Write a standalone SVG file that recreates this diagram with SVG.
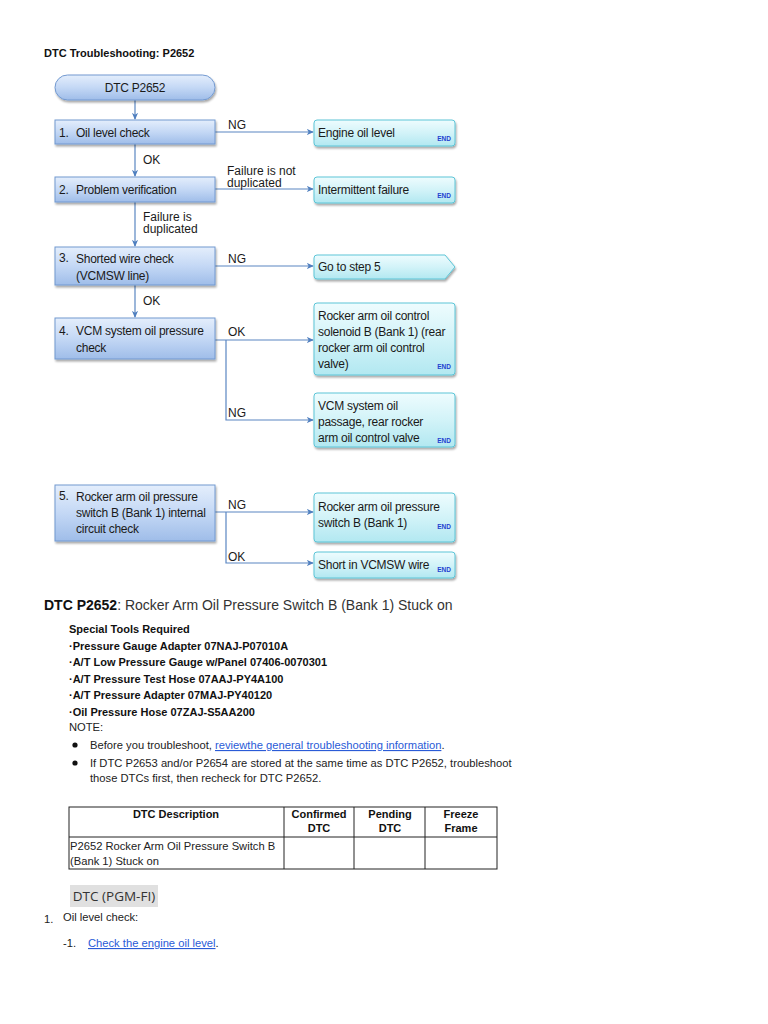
<svg xmlns="http://www.w3.org/2000/svg" width="768" height="1024" viewBox="0 0 768 1024">
<defs>
<linearGradient id="gMain" x1="0" y1="0" x2="0" y2="1">
<stop offset="0" stop-color="#e4eefc"/>
<stop offset="0.5" stop-color="#c4d8f5"/>
<stop offset="1" stop-color="#9fbde9"/>
</linearGradient>
<linearGradient id="gEnd" x1="0" y1="0" x2="0" y2="1">
<stop offset="0" stop-color="#eefcfe"/>
<stop offset="0.5" stop-color="#d2f3f8"/>
<stop offset="1" stop-color="#b2e8f1"/>
</linearGradient>
<filter id="sh" x="-10%" y="-10%" width="125%" height="140%">
<feGaussianBlur in="SourceAlpha" stdDeviation="1.2"/>
<feOffset dx="1" dy="2" result="o"/>
<feComponentTransfer><feFuncA type="linear" slope="0.35"/></feComponentTransfer>
<feMerge><feMergeNode/><feMergeNode in="SourceGraphic"/></feMerge>
</filter>
<marker id="arr" viewBox="0 0 8 8" refX="7" refY="4" markerWidth="7" markerHeight="7" orient="auto" markerUnits="userSpaceOnUse">
<path d="M0,0.5 L8,4 L0,7.5 L2,4 Z" fill="#4f7fbf"/>
</marker>
<style>
.main{fill:url(#gMain);stroke:#7299d0;stroke-width:1;filter:url(#sh)}
.end{fill:url(#gEnd);stroke:#5cc5d7;stroke-width:1;filter:url(#sh)}
.t{font-family:"Liberation Sans",Arial,sans-serif;font-size:12px;fill:#1a1a1a;letter-spacing:-0.25px}
.lbl{font-family:"Liberation Sans",Arial,sans-serif;font-size:12px;fill:#1a1a1a}
.endt{font-family:"Liberation Sans",Arial,sans-serif;font-size:6.5px;font-weight:bold;fill:#1f3fd0}
.c{fill:none;stroke:#5a86c2;stroke-width:1.2}
.b11{font-family:"Liberation Sans",Arial,sans-serif;font-size:11px;font-weight:bold;fill:#111}
.n11{font-family:"Liberation Sans",Arial,sans-serif;font-size:11.2px;fill:#222}
.link{fill:#2a5bd7;text-decoration:underline}
</style>
</defs>
<rect width="768" height="1024" fill="#ffffff"/>

<text x="44" y="57" class="b11">DTC Troubleshooting: P2652</text>

<g id="connectors">
<path class="c" d="M135,100 V119" marker-end="url(#arr)"/>
<path class="c" d="M135,144 V176" marker-end="url(#arr)"/>
<path class="c" d="M135,202 V246" marker-end="url(#arr)"/>
<path class="c" d="M135,285 V317" marker-end="url(#arr)"/>
<path class="c" d="M215,132 H313" marker-end="url(#arr)"/>
<path class="c" d="M215,189 H313" marker-end="url(#arr)"/>
<path class="c" d="M215,266 H313" marker-end="url(#arr)"/>
<path class="c" d="M215,340 H313" marker-end="url(#arr)"/>
<path class="c" d="M226,340 V420 H313" marker-end="url(#arr)"/>
<path class="c" d="M215,512 H313" marker-end="url(#arr)"/>
<path class="c" d="M226,512 V563 H313" marker-end="url(#arr)"/>
<text x="228" y="129" class="lbl">NG</text>
<text x="143" y="164" class="lbl">OK</text>
<text x="227" y="175" class="lbl">Failure is not</text>
<text x="227" y="187" class="lbl">duplicated</text>
<text x="143" y="221" class="lbl">Failure is</text>
<text x="143" y="233" class="lbl">duplicated</text>
<text x="228" y="263" class="lbl">NG</text>
<text x="143" y="305" class="lbl">OK</text>
<text x="228" y="336" class="lbl">OK</text>
<text x="228" y="417" class="lbl">NG</text>
<text x="228" y="509" class="lbl">NG</text>
<text x="228" y="561" class="lbl">OK</text>
</g>

<g id="start">
<rect class="main" x="55" y="75" width="160" height="25" rx="12.5"/>
<text x="135" y="92" class="t" text-anchor="middle">DTC P2652</text>
</g>
<g id="step1">
<rect class="main" x="55" y="120" width="160" height="24"/>
<text x="59" y="137" class="t">1.</text><text x="76" y="137" class="t">Oil level check</text>
</g>
<g id="step2">
<rect class="main" x="55" y="177" width="160" height="25"/>
<text x="59" y="194" class="t">2.</text><text x="76" y="194" class="t">Problem verification</text>
</g>
<g id="step3">
<rect class="main" x="55" y="247" width="160" height="38"/>
<text x="59" y="262" class="t">3.</text><text x="76" y="263" class="t">Shorted wire check</text>
<text x="76" y="280" class="t">(VCMSW line)</text>
</g>
<g id="step4">
<rect class="main" x="55" y="318" width="160" height="41"/>
<text x="59" y="335" class="t">4.</text><text x="76" y="335" class="t">VCM system oil pressure</text>
<text x="76" y="352" class="t">check</text>
</g>
<g id="step5">
<rect class="main" x="55" y="485" width="160" height="56"/>
<text x="59" y="500" class="t">5.</text><text x="76" y="501" class="t">Rocker arm oil pressure</text>
<text x="76" y="517" class="t">switch B (Bank 1) internal</text>
<text x="76" y="533" class="t">circuit check</text>
</g>

<g id="end-oil">
<rect class="end" x="314" y="120" width="141" height="26" rx="3"/>
<text x="318" y="137" class="t">Engine oil level</text>
<text x="451" y="141" class="endt" text-anchor="end">END</text>
</g>
<g id="end-intermittent">
<rect class="end" x="314" y="177" width="141" height="26" rx="3"/>
<text x="318" y="194" class="t">Intermittent failure</text>
<text x="451" y="198" class="endt" text-anchor="end">END</text>
</g>
<g id="goto5">
<path class="end" d="M317,255 H445 L455,267 L445,279 H317 Q314,279 314,276 V258 Q314,255 317,255 Z"/>
<text x="318" y="271" class="t">Go to step 5</text>
</g>
<g id="end-solenoid">
<rect class="end" x="314" y="303" width="141" height="72" rx="3"/>
<text x="318" y="320" class="t">Rocker arm oil control</text>
<text x="318" y="336" class="t">solenoid B (Bank 1) (rear</text>
<text x="318" y="352" class="t">rocker arm oil control</text>
<text x="318" y="368" class="t">valve)</text>
<text x="451" y="369" class="endt" text-anchor="end">END</text>
</g>
<g id="end-passage">
<rect class="end" x="314" y="393" width="141" height="54" rx="3"/>
<text x="318" y="410" class="t">VCM system oil</text>
<text x="318" y="426" class="t">passage, rear rocker</text>
<text x="318" y="442" class="t">arm oil control valve</text>
<text x="451" y="443" class="endt" text-anchor="end">END</text>
</g>
<g id="end-switch">
<rect class="end" x="314" y="493" width="141" height="49" rx="3"/>
<text x="318" y="511" class="t">Rocker arm oil pressure</text>
<text x="318" y="527" class="t">switch B (Bank 1)</text>
<text x="451" y="529" class="endt" text-anchor="end">END</text>
</g>
<g id="end-short">
<rect class="end" x="314" y="552" width="141" height="26" rx="3"/>
<text x="318" y="569" class="t">Short in VCMSW wire</text>
<text x="451" y="572" class="endt" text-anchor="end">END</text>
</g>

<text x="44" y="610" font-family="Liberation Sans, Arial, sans-serif" font-size="14" fill="#333"><tspan font-weight="bold" fill="#111">DTC P2652</tspan>: Rocker Arm Oil Pressure Switch B (Bank 1) Stuck on</text>

<text x="69" y="633" class="b11">Special Tools Required</text>
<text x="69" y="650" class="b11">·Pressure Gauge Adapter 07NAJ-P07010A</text>
<text x="69" y="666" class="b11">·A/T Low Pressure Gauge w/Panel 07406-0070301</text>
<text x="69" y="683" class="b11">·A/T Pressure Test Hose 07AAJ-PY4A100</text>
<text x="69" y="699" class="b11">·A/T Pressure Adapter 07MAJ-PY40120</text>
<text x="69" y="716" class="b11">·Oil Pressure Hose 07ZAJ-S5AA200</text>
<text x="69" y="731" class="n11">NOTE:</text>
<circle cx="75" cy="745" r="2.6" fill="#111"/>
<text x="90" y="749" class="n11">Before you troubleshoot, <tspan class="link">reviewthe general troubleshooting information</tspan>.</text>
<circle cx="75" cy="763" r="2.6" fill="#111"/>
<text x="90" y="767" class="n11">If DTC P2653 and/or P2654 are stored at the same time as DTC P2652, troubleshoot</text>
<text x="90" y="782" class="n11">those DTCs first, then recheck for DTC P2652.</text>

<g id="table" stroke="#222" stroke-width="1" fill="none">
<rect x="69" y="807" width="428" height="62"/>
<line x1="69" y1="837" x2="497" y2="837"/>
<line x1="284" y1="807" x2="284" y2="869"/>
<line x1="354" y1="807" x2="354" y2="869"/>
<line x1="425" y1="807" x2="425" y2="869"/>
</g>
<text x="176" y="818" class="b11" text-anchor="middle">DTC Description</text>
<text x="319" y="818" class="b11" text-anchor="middle">Confirmed</text>
<text x="319" y="832" class="b11" text-anchor="middle">DTC</text>
<text x="390" y="818" class="b11" text-anchor="middle">Pending</text>
<text x="390" y="832" class="b11" text-anchor="middle">DTC</text>
<text x="461" y="818" class="b11" text-anchor="middle">Freeze</text>
<text x="461" y="832" class="b11" text-anchor="middle">Frame</text>
<text x="70" y="850" class="n11">P2652 Rocker Arm Oil Pressure Switch B</text>
<text x="70" y="865" class="n11">(Bank 1) Stuck on</text>

<rect x="70" y="885" width="88" height="22" fill="#e0e0e0"/>
<text x="114" y="901" font-family="Open Sans, Noto Sans, sans-serif" font-size="13.5" fill="#333" text-anchor="middle">DTC (PGM-FI)</text>
<text x="44" y="923" class="n11">1.</text>
<text x="63" y="921" class="n11">Oil level check:</text>
<text x="63" y="947" class="n11">-1.</text>
<text x="88" y="947" class="n11"><tspan class="link">Check the engine oil level</tspan>.</text>
</svg>
